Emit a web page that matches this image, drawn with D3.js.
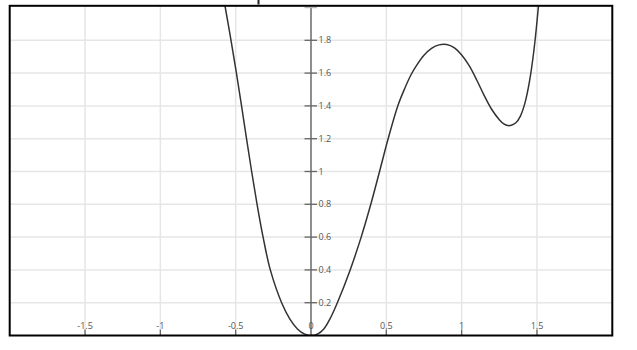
<!DOCTYPE html>
<html><head><meta charset="utf-8">
<script src="https://cdn.jsdelivr.net/npm/d3@7"></script>
<style>html,body{margin:0;padding:0;background:#fff;}svg{display:block;}</style>
</head><body>
<svg id="c" width="637" height="350"></svg>
<script>
// Data
const curveX = [-0.60, -0.569, -0.531, -0.495, -0.461, -0.428, -0.394, -0.358, -0.318, -0.270, -0.195, -0.14, -0.09, -0.045, 0, 0.045, 0.085, 0.125, 0.175, 0.26, 0.333, 0.397, 0.455, 0.512, 0.576, 0.62, 0.664, 0.70, 0.75, 0.80, 0.85, 0.90, 0.95, 1.0, 1.05, 1.10, 1.15, 1.20, 1.25, 1.28, 1.307, 1.33, 1.36, 1.39, 1.42, 1.45, 1.48, 1.51, 1.53];
const curveY = [2.16, 2.0, 1.8, 1.6, 1.4, 1.2, 1.0, 0.8, 0.6, 0.4, 0.2, 0.1, 0.04, 0.01, 0, 0.01, 0.04, 0.1, 0.2, 0.4, 0.6, 0.8, 1.0, 1.2, 1.4, 1.502, 1.59, 1.646, 1.709, 1.751, 1.772, 1.774, 1.755, 1.71, 1.645, 1.558, 1.463, 1.378, 1.316, 1.29, 1.28, 1.282, 1.297, 1.338, 1.417, 1.548, 1.741, 2.011, 2.24];
const xTicks = [-1.5, -1, -0.5, 0, 0.5, 1, 1.5];
const xTickLabels = ["-1.5", "-1", "-0.5", "0", "0.5", "1", "1.5"];
const yTicks = [0.2, 0.4, 0.6, 0.8, 1, 1.2, 1.4, 1.6, 1.8];
const yTickLabels = ["0.2", "0.4", "0.6", "0.8", "1", "1.2", "1.4", "1.6", "1.8"];
const xDomain = [-2, 2];
const yDomain = [0, 2];

(function () {
const svg = d3.select("#c");
const pl = 9.7, pr = 612.3, pt = 5.8, pb = 335.5;
const x = d3.scaleLinear().domain(xDomain).range([pl, pr]);
const y = d3.scaleLinear().domain(yDomain).range([pb, 7.5]);

svg.append("defs").append("clipPath").attr("id", "clip")
  .append("rect").attr("x", pl).attr("y", pt).attr("width", pr - pl).attr("height", pb - pt);

const g = svg.append("g");
// grid
g.selectAll("line.vg").data(xTicks).enter().append("line")
  .attr("x1", d => x(d)).attr("x2", d => x(d)).attr("y1", pt).attr("y2", pb)
  .attr("stroke", "#e6e6e6").attr("stroke-width", 1.5);
g.selectAll("line.hg").data(yTicks).enter().append("line")
  .attr("y1", d => y(d)).attr("y2", d => y(d)).attr("x1", pl).attr("x2", pr)
  .attr("stroke", "#e6e6e6").attr("stroke-width", 1.5);

// y axis (vertical line at x=0)
g.append("line").attr("x1", x(0)).attr("x2", x(0)).attr("y1", y(2)).attr("y2", pb)
  .attr("stroke", "#777").attr("stroke-width", 1.6);
g.append("line").attr("x1", x(0) - 6.5).attr("x2", x(0) + 6).attr("y1", y(2)).attr("y2", y(2))
  .attr("stroke", "#bbb").attr("stroke-width", 1.5);
g.selectAll("line.yt").data(yTicks).enter().append("line")
  .attr("x1", x(0) - 6.5).attr("x2", x(0) + 6).attr("y1", d => y(d)).attr("y2", d => y(d))
  .attr("stroke", "#666").attr("stroke-width", 1.3);
g.selectAll("text.yl").data(yTicks).enter().append("text")
  .attr("x", x(0) + 7.5).attr("y", d => y(d)).attr("dy", "0.35em")
  .attr("font-family", "'Open Sans', sans-serif").attr("font-size", 9).attr("fill", "#555")
  .text((d, i) => yTickLabels[i]);

// x axis ticks at bottom
g.selectAll("line.xt").data(xTicks.filter(d => d !== 0)).enter().append("line")
  .attr("x1", d => x(d)).attr("x2", d => x(d)).attr("y1", pb - 6).attr("y2", pb)
  .attr("stroke", "#666").attr("stroke-width", 1.3);
g.selectAll("text.xl").data(xTicks).enter().append("text")
  .attr("x", d => x(d)).attr("y", pb - 10).attr("dy", "0.35em").attr("text-anchor", "middle")
  .attr("font-family", "'Open Sans', sans-serif").attr("font-size", 9).attr("fill", "#555")
  .text((d, i) => xTickLabels[i]);

// curve
const pts = curveX.map((v, i) => [v, curveY[i]]);
g.append("path").datum(pts).attr("clip-path", "url(#clip)")
  .attr("d", d3.line().x(d => x(d[0])).y(d => y(d[1])).curve(d3.curveCatmullRom.alpha(0.5)))
  .attr("fill", "none").attr("stroke", "#333").attr("stroke-width", 1.5);

// border
svg.append("rect").attr("x", pl).attr("y", pt).attr("width", pr - pl).attr("height", pb - pt)
  .attr("fill", "none").attr("stroke", "#000").attr("stroke-width", 2);

// small mark at top
svg.append("rect").attr("x", 257.5).attr("y", 0).attr("width", 2).attr("height", 4.5).attr("fill", "#222");
})();
</script>
</body></html>
